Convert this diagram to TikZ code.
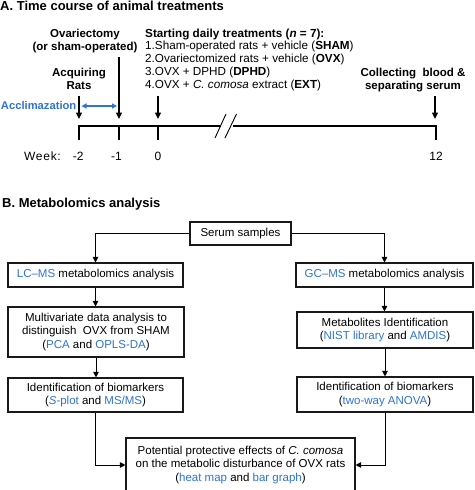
\documentclass[tikz,border=0pt]{standalone}
\usepackage{fontspec}
\setmainfont{Liberation Sans}
\usetikzlibrary{arrows.meta}
\definecolor{lblue}{RGB}{45,115,215}
\begin{document}
\begin{tikzpicture}[x=1pt,y=-1pt,
  txt/.style={inner sep=0pt, font=\fontsize{11.7}{13.5}\selectfont},
  btxt/.style={inner sep=0pt, font=\fontsize{11.5}{13}\selectfont\bfseries, align=center},
  ttl/.style={inner sep=0pt, anchor=base west, font=\fontsize{13}{15}\selectfont\bfseries},
  box/.style={draw=black!90, line width=1.1pt, inner sep=0pt, align=center, font=\fontsize{11.5}{13.5}\selectfont},
  arr/.style={line width=1.3pt, -{Triangle[length=6.5pt,width=6pt]}},
  conn/.style={line width=1pt, -{Triangle[length=5.5pt,width=5.5pt]}},
  tline/.style={line width=1.8pt},
  slash/.style={line width=0.9pt},
  dbl/.style={lblue, line width=1.1pt, {Triangle[length=5pt,width=5pt]}-{Triangle[length=5pt,width=5pt]}}
]
\clip (0,0) rectangle (474,490);
% ---------------- Part A ----------------
\node[ttl] (titleA) at (0,10) {A. Time course of animal treatments};

\node[btxt, anchor=base] (ov1) at (85,37) {Ovariectomy};
\node[btxt, anchor=base] (ov2) at (85,50) {(or sham-operated)};
\node[btxt, anchor=base] (aq1) at (79,76) {Acquiring};
\node[btxt, anchor=base] (aq2) at (79,89) {Rats};
\node[btxt, anchor=base] (co1) at (413,76.5) {Collecting\ \ blood \&};
\node[btxt, anchor=base] (co2) at (413,89) {separating serum};

\node[txt, anchor=base west, font=\fontsize{11.7}{13}\selectfont\bfseries] (st0) at (145,37) {Starting daily treatments (\textit{n} = 7):};
\node[txt, anchor=base west] (st1) at (145,49.8) {1.Sham-operated rats + vehicle (\textbf{SHAM})};
\node[txt, anchor=base west] (st2) at (145,62.6) {2.Ovariectomized rats + vehicle (\textbf{OVX})};
\node[txt, anchor=base west] (st3) at (145,75.4) {3.OVX + DPHD (\textbf{DPHD})};
\node[txt, anchor=base west] (st4) at (145,88.2) {4.OVX + \textit{C. comosa} extract (\textbf{EXT})};

\node[txt, anchor=base west, text=lblue, font=\fontsize{11.2}{13}\selectfont\bfseries] (accl) at (0.8,109) {Acclimazation};

% arrow coordinates
\coordinate (a1s) at (79,96);   \coordinate (a1e) at (79,119);
\coordinate (a2s) at (119,57);  \coordinate (a2e) at (119,119);
\coordinate (a3s) at (158,96);  \coordinate (a3e) at (158,119);
\coordinate (a4s) at (435,96);  \coordinate (a4e) at (435,119);
\draw[arr] (a1s) -- (a1e);
\draw[arr] (a2s) -- (a2e);
\draw[arr] (a3s) -- (a3e);
\draw[arr] (a4s) -- (a4e);
\coordinate (dl) at (81.5,106); \coordinate (dr) at (117,106);
\draw[dbl] (dl) -- (dr);

% timeline
\coordinate (t1b) at (79,140);  \coordinate (t1) at (79,126);
\coordinate (t2b) at (119,140); \coordinate (t2) at (119,126);
\coordinate (t3b) at (158,140); \coordinate (t3) at (158,126);
\coordinate (t4b) at (436,140); \coordinate (t4) at (436,126);
\coordinate (bk1) at (221,126); \coordinate (bk2) at (233,126);
\draw[tline] (t1b) -- (t1) -- (bk1);
\draw[tline] (bk2) -- (t4) -- (t4b);
\draw[tline] (t2) -- (t2b);
\draw[tline] (t3) -- (t3b);
\coordinate (s1a) at (215,138); \coordinate (s1b) at (226,114);
\coordinate (s2a) at (225,138); \coordinate (s2b) at (236.5,114);
\draw[slash] (s1a) -- (s1b);
\draw[slash] (s2a) -- (s2b);

\node[txt, anchor=base, font=\fontsize{12}{14}\selectfont\addfontfeature{LetterSpace=6}] (wk) at (42.5,160.7) {Week:};
\node[txt, anchor=base, font=\fontsize{12}{14}\selectfont] (w1) at (78.3,160.7) {-2};
\node[txt, anchor=base, font=\fontsize{12}{14}\selectfont] (w2) at (116.5,160.7) {-1};
\node[txt, anchor=base, font=\fontsize{12}{14}\selectfont] (w3) at (158,160.7) {0};
\node[txt, anchor=base, font=\fontsize{12}{14}\selectfont] (w4) at (436,160.7) {12};

% ---------------- Part B ----------------
\node[ttl] (titleB) at (2,207) {B. Metabolomics analysis};

\node[box, minimum width=101pt, minimum height=23pt] (serum) at (240.5,233.5) {Serum samples};
\node[box, minimum width=175pt, minimum height=24pt] (lc) at (95.5,275) {\textcolor{lblue}{LC–MS} metabolomics analysis};
\node[box, minimum width=177pt, minimum height=24pt] (gc) at (384.5,275) {\textcolor{lblue}{GC–MS} metabolomics analysis};
\node[box, minimum width=176pt, minimum height=50pt] (mv) at (96,332) {Multivariate data analysis to\\distinguish\ \ OVX from SHAM\\(\textcolor{lblue}{PCA} and \textcolor{lblue}{OPLS-DA})};
\node[box, minimum width=176pt, minimum height=36pt] (met) at (385,330) {Metabolites Identification\\(\textcolor{lblue}{NIST library} and \textcolor{lblue}{AMDIS})};
\node[box, minimum width=175pt, minimum height=34pt] (bioL) at (95.5,395) {Identification of biomarkers\\(\textcolor{lblue}{\textit{S}-plot} and \textcolor{lblue}{MS/MS})};
\node[box, minimum width=176pt, minimum height=35pt] (bioR) at (385,394.5) {Identification of biomarkers\\(\textcolor{lblue}{two-way ANOVA})};
\node[box, minimum width=229pt, minimum height=54pt] (fin) at (240.5,465) {Potential protective effects of \textit{C. comosa}\\on the metabolic disturbance of OVX rats\\(\textcolor{lblue}{heat map} and \textcolor{lblue}{bar graph})};

\draw[conn] (serum.west) -| (lc.north);
\draw[conn] (serum.east) -| (gc.north);
\draw[conn] (lc.south) -- (lc.south |- mv.north);
\draw[conn] (mv.south) -- (mv.south |- bioL.north);
\draw[conn] (gc.south) -- (gc.south |- met.north);
\draw[conn] (met.south) -- (met.south |- bioR.north);
\draw[conn] (bioL.south) |- (fin.west);
\draw[conn] (bioR.south) |- (fin.east);
\end{tikzpicture}
\end{document}
